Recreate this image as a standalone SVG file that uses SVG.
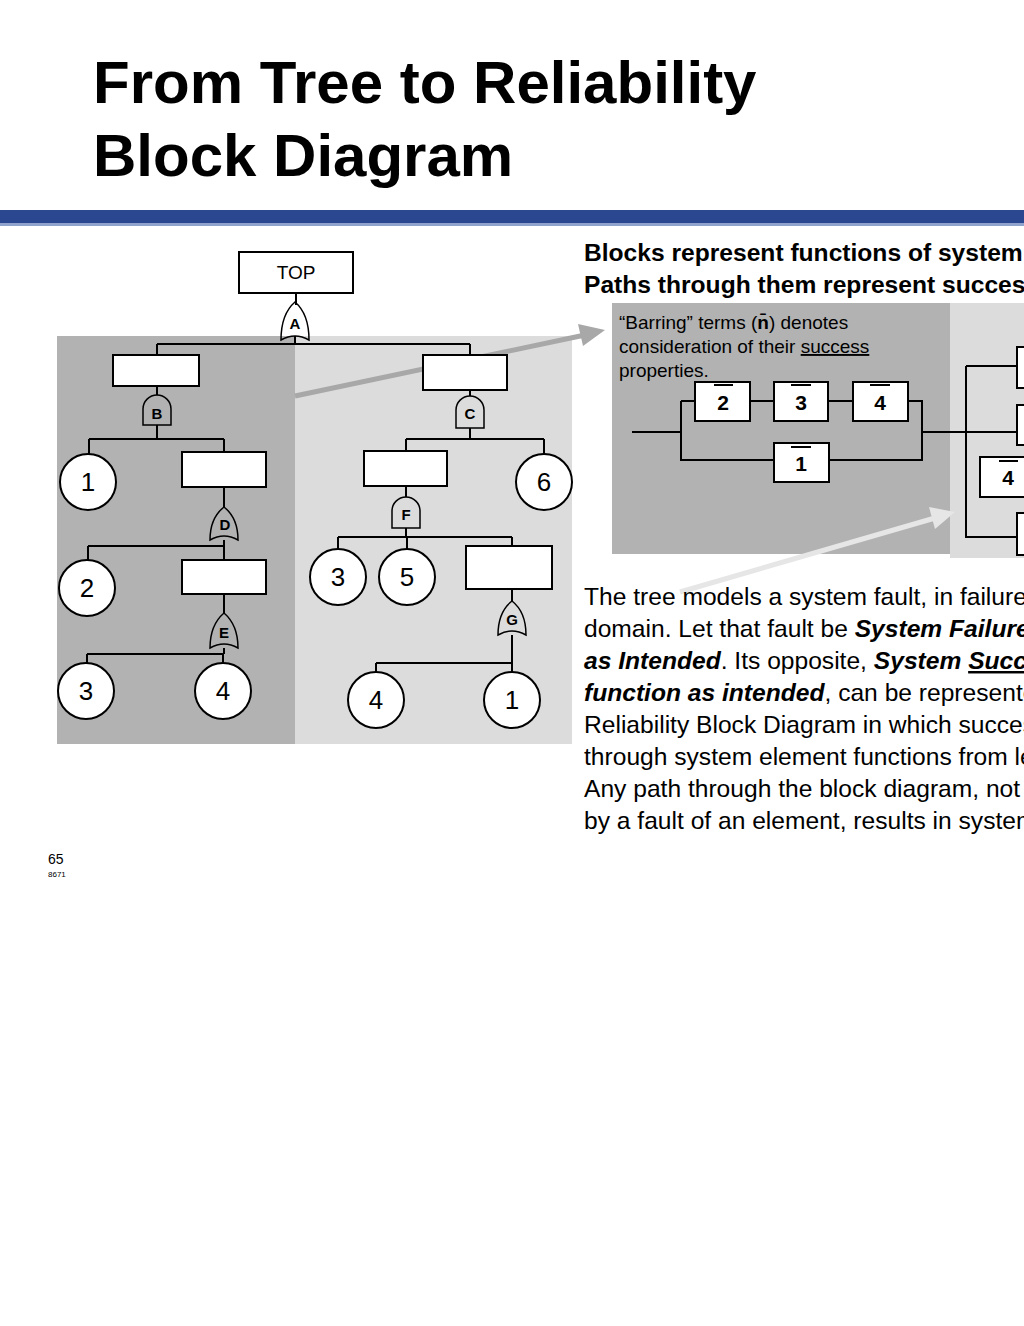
<svg xmlns="http://www.w3.org/2000/svg" width="1024" height="1326" viewBox="0 0 1024 1326">
<style>
text{font-family:"Liberation Sans",Arial,sans-serif;fill:#000}
.ln{stroke:#000;stroke-width:2;fill:none}
.bx{fill:#fff;stroke:#000;stroke-width:2}
.gt{fill:none;stroke:#000;stroke-width:1.5}
.gl{font-size:15px;font-weight:bold;text-anchor:middle}
.cl{font-size:26px;text-anchor:middle}
.rb{font-size:21px;font-weight:bold;text-anchor:middle}
.bt{font-size:24.6px}
.bi{font-weight:bold;font-style:italic}
.nt{font-size:19px}
</style>
<rect width="1024" height="1326" fill="#fff"/>
<text x="93" y="103" font-size="60" font-weight="bold">From Tree to Reliability</text>
<text x="93" y="176" font-size="60" font-weight="bold">Block Diagram</text>
<rect x="0" y="210" width="1024" height="13" fill="#2b4790"/>
<rect x="0" y="223" width="1024" height="3" fill="#8fa3cc"/>
<rect x="57" y="336" width="238" height="408" fill="#b2b2b2"/>
<rect x="295" y="336" width="277" height="408" fill="#dcdcdc"/>
<rect x="612" y="303" width="338" height="251" fill="#b2b2b2"/>
<rect x="950" y="303" width="74" height="255" fill="#dcdcdc"/>
<g id="connectors">
<path class="ln" d="M296 293V305M295 336V344M157 344H470M157 344V355M470 344V355M157 386V395M157 425V439M89 439H224M89 439V454M224 439V452M224 487V507M224 540V546M88 546H224M88 546V560M224 546V560M224 594V613M224 648V654M87 654H223M87 654V663M223 654V663M470 390V396M470 428V439M406 439H544M406 439V451M544 439V454M406 486V497M406 528V537M338 537H512M338 537V549M407 537V549M512 537V546M512 589V601M512 635V663M376 663H512M376 663V672M512 663V672"/>
<path class="ln" d="M632 432H681M681 401V460H774M681 401H695M750 401H774M828 401H853M908 401H922V460H829M922 432H1024M966 366V537H1024M966 366H1024"/>
<path d="M295 396L585 335" stroke="#a8a8a8" stroke-width="5" fill="none"/>
<polygon points="605,330 578,324 583,346" fill="#a8a8a8"/>
<path d="M680 592L935 518" stroke="#e6e6e6" stroke-width="5" fill="none"/>
<polygon points="955,512 929,507 935,529" fill="#e6e6e6"/>
</g>
<g id="top"><rect class="bx" x="239" y="252" width="114" height="41"/><text x="296" y="279" font-size="19" text-anchor="middle">TOP</text></g>
<g id="gateA"><path class="gt" d="M281 340Q281 314 295 302Q309 314 309 340Q295 332 281 340Z" fill="#fff"/><text class="gl" x="295" y="329">A</text></g>
<g id="evB"><rect class="bx" x="113" y="355" width="86" height="31"/></g>
<g id="gateB"><path class="gt" d="M143 425V409A14 14 0 0 1 171 409V425Z"/><text class="gl" x="157" y="419">B</text></g>
<g id="c1"><circle class="bx" cx="88" cy="482" r="28"/><text class="cl" x="88" y="491">1</text></g>
<g id="evD"><rect class="bx" x="182" y="452" width="84" height="35"/></g>
<g id="gateD"><path class="gt" d="M210 540Q210 518 224 507Q238 518 238 540Q224 532 210 540Z"/><text class="gl" x="225" y="530">D</text></g>
<g id="c2"><circle class="bx" cx="87" cy="588" r="28"/><text class="cl" x="87" y="597">2</text></g>
<g id="evE"><rect class="bx" x="182" y="560" width="84" height="34"/></g>
<g id="gateE"><path class="gt" d="M210 648Q210 625 224 613Q238 625 238 648Q224 640 210 648Z"/><text class="gl" x="224" y="638">E</text></g>
<g id="c3a"><circle class="bx" cx="86" cy="691" r="28"/><text class="cl" x="86" y="700">3</text></g>
<g id="c4a"><circle class="bx" cx="223" cy="691" r="28"/><text class="cl" x="223" y="700">4</text></g>
<g id="evC"><rect class="bx" x="423" y="355" width="84" height="35"/></g>
<g id="gateC"><path class="gt" d="M456 428V410A14 14 0 0 1 484 410V428Z"/><text class="gl" x="470" y="419">C</text></g>
<g id="evF"><rect class="bx" x="364" y="451" width="83" height="35"/></g>
<g id="c6"><circle class="bx" cx="544" cy="482" r="28"/><text class="cl" x="544" y="491">6</text></g>
<g id="gateF"><path class="gt" d="M392 528V511A14 14 0 0 1 420 511V528Z"/><text class="gl" x="406" y="520">F</text></g>
<g id="c3b"><circle class="bx" cx="338" cy="577" r="28"/><text class="cl" x="338" y="586">3</text></g>
<g id="c5"><circle class="bx" cx="407" cy="577" r="28"/><text class="cl" x="407" y="586">5</text></g>
<g id="evG"><rect class="bx" x="466" y="546" width="86" height="43"/></g>
<g id="gateG"><path class="gt" d="M498 635Q498 612 512 601Q526 612 526 635Q512 627 498 635Z"/><text class="gl" x="512" y="625">G</text></g>
<g id="c4b"><circle class="bx" cx="376" cy="700" r="28"/><text class="cl" x="376" y="709">4</text></g>
<g id="c1b"><circle class="bx" cx="512" cy="700" r="28"/><text class="cl" x="512" y="709">1</text></g>
<g id="rbd-note"><text class="nt" x="619" y="329">“Barring” terms (<tspan font-weight="bold">n̄</tspan>) denotes</text>
<text class="nt" x="619" y="353">consideration of their <tspan text-decoration="underline">success</tspan></text>
<text class="nt" x="619" y="377">properties.</text></g>
<g id="b2"><rect class="bx" x="695" y="382" width="55" height="39"/><text class="rb" x="723" y="410">2</text><path class="ln" d="M714 385H733"/></g>
<g id="b3"><rect class="bx" x="774" y="382" width="54" height="39"/><text class="rb" x="801" y="410">3</text><path class="ln" d="M791 385H811"/></g>
<g id="b4"><rect class="bx" x="853" y="382" width="55" height="39"/><text class="rb" x="880" y="410">4</text><path class="ln" d="M870 385H890"/></g>
<g id="b1"><rect class="bx" x="774" y="443" width="55" height="39"/><text class="rb" x="801" y="471">1</text><path class="ln" d="M791 447H811"/></g>
<g id="rr"><rect class="bx" x="1017" y="347" width="20" height="41"/><rect class="bx" x="1017" y="405" width="20" height="40"/><rect class="bx" x="1017" y="513" width="20" height="42"/>
<rect class="bx" x="980" y="457" width="50" height="40"/><text class="rb" x="1008" y="485">4</text><path class="ln" d="M999 461H1018"/></g>
<g id="texts">
<text x="584" y="261" font-size="24.6" font-weight="bold">Blocks represent functions of system elements.</text>
<text x="584" y="293" font-size="24.6" font-weight="bold">Paths through them represent success.</text>
<text class="bt" x="584" y="605">The tree models a system fault, in failure</text>
<text class="bt" x="584" y="637">domain. Let that fault be <tspan class="bi">System Failure to Function</tspan></text>
<text class="bt" x="584" y="669"><tspan class="bi">as Intended</tspan>. Its opposite, <tspan class="bi">System </tspan><tspan class="bi" text-decoration="underline">Success</tspan><tspan class="bi"> to</tspan></text>
<text class="bt" x="584" y="701"><tspan class="bi">function as intended</tspan>, can be represented by a</text>
<text class="bt" x="584" y="733">Reliability Block Diagram in which success paths</text>
<text class="bt" x="584" y="765">through system element functions from left to right.</text>
<text class="bt" x="584" y="797">Any path through the block diagram, not interrupted</text>
<text class="bt" x="584" y="829">by a fault of an element, results in system success.</text>
<text x="48" y="864" font-size="14">65</text>
<text x="48" y="877" font-size="8">8671</text>
</g>
</svg>
